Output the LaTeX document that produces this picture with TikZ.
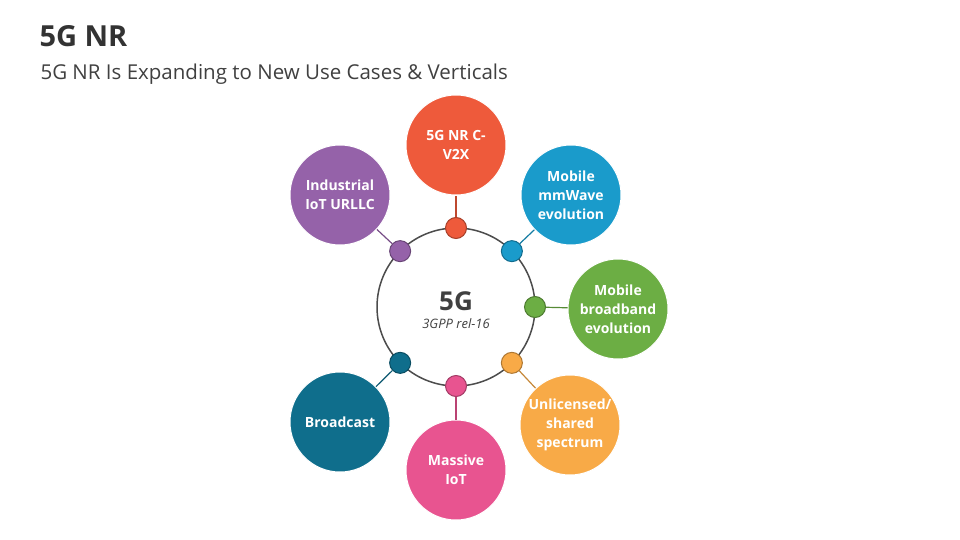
\documentclass[tikz,border=0pt]{standalone}
\usepackage{fontspec}
\setmainfont{Open Sans}
\usetikzlibrary{calc}
\begin{document}
\begin{tikzpicture}[x=1pt,y=-1pt,
  big/.style={circle,minimum size=100pt,inner sep=0pt,text=white,align=center,font=\bfseries\fontsize{14}{19}\selectfont,draw=white,line width=1pt},
  small/.style={circle,minimum size=21pt,inner sep=0pt,draw=#1!70!black,fill=#1,line width=1pt},
  link/.style={draw=#1!80!black,line width=1.2pt}]
\definecolor{cA}{HTML}{EE5A3B}
\definecolor{cB}{HTML}{1A9BCB}
\definecolor{cC}{HTML}{6CAE44}
\definecolor{cD}{HTML}{F8AA47}
\definecolor{cE}{HTML}{E85490}
\definecolor{cF}{HTML}{0F6E8C}
\definecolor{cG}{HTML}{9562A9}
\useasboundingbox (0,0) rectangle (960,540);
\node[anchor=west,font=\bfseries\fontsize{29}{32}\selectfont,text=black!80] (t) at (36,36) {5G NR};
\node[anchor=west,font=\fontsize{20.5}{24}\selectfont,text=black!75] (st) at (37,74) {5G NR Is Expanding to New Use Cases \& Verticals};
\node[circle,draw=black!70,line width=1.5pt,minimum size=158pt] (c) at (456,307) {};
\node[font=\bfseries\fontsize{26}{28}\selectfont,text=black!75] (g) at (456,301) {5G};
\node[font=\itshape\fontsize{13}{15}\selectfont,text=black!75] (r) at (456,324) {3GPP rel-16};
\foreach \n/\a/\bx/\by/\col/\txt in {
  a/90/456/145/cA/{5G NR C-\\V2X},
  b/45/571/195/cB/{Mobile\\mmWave\\evolution},
  c0/0/618/309/cC/{Mobile\\broadband\\evolution},
  d/-45/570/425/cD/{Unlicensed/\\shared\\spectrum},
  e/-90/456/470/cE/{Massive\\IoT},
  f/-135/340/422/cF/{Broadcast},
  g0/135/340/195/cG/{Industrial\\IoT URLLC}}{
  \node[big,fill=\col] (B\n) at (\bx,\by) {\txt};
  \node[small=\col] (S\n) at ($(456,307)+({79*cos(\a)},{-79*sin(\a)})$) {};
}
\foreach \n/\col in {a/cA,b/cB,c0/cC,d/cD,e/cE,f/cF,g0/cG}{
  \draw[link=\col] (S\n) -- (B\n);
}
\end{tikzpicture}
\end{document}
